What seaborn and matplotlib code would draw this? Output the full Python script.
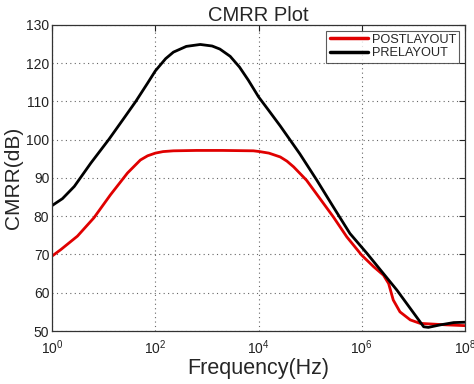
import numpy as np
import pandas as pd
import matplotlib
matplotlib.use("Agg")
import matplotlib.pyplot as plt
import seaborn as sns
from matplotlib.ticker import NullLocator, FixedLocator

# log10(frequency in Hz) and CMRR values (dB)
pre_logf = [0, 0.2, 0.43, 0.75, 1.1, 1.39, 1.62, 1.85, 2.0, 2.2, 2.35, 2.6, 2.87, 3.1, 3.25, 3.45, 3.63,
            3.8, 4.0, 4.2, 4.42, 4.8, 5.13, 5.45, 5.77, 6.1, 6.42, 6.68, 6.94, 7.2, 7.29, 7.52, 7.78, 8.0]
pre_cmrr = [82.8, 84.6, 87.8, 93.9, 100.1, 105.6, 110, 114.8, 118.0, 121.2, 122.9, 124.4, 124.9, 124.5, 123.7, 121.8, 119,
            115.6, 111.2, 107.6, 103.6, 96.3, 89.4, 82.4, 75.5, 70.3, 65, 60.7, 55.9, 51.1, 50.95, 51.6, 52.2, 52.3]

post_logf = [0, 0.17, 0.49, 0.81, 1.13, 1.46, 1.71, 1.85, 2.0, 2.15, 2.35, 2.8, 3.3, 3.9, 4.02, 4.2, 4.42, 4.55,
             4.68, 4.93, 5.19, 5.45, 5.71, 6.0, 6.23, 6.42, 6.52, 6.61, 6.74, 6.94, 7.13, 7.39, 7.65, 8.0]
post_cmrr = [69.6, 71.3, 74.8, 79.6, 85.6, 91.3, 94.7, 95.8, 96.5, 96.9, 97.1, 97.2, 97.2, 97.1, 96.9, 96.5, 95.5, 94.4,
             92.9, 89.4, 84.6, 79.8, 74.6, 69.8, 66.8, 64.6, 62.4, 58.1, 55.0, 52.9, 52.0, 51.8, 51.6, 51.4]

series_names = ["POSTLAYOUT", "PRELAYOUT"]
series_colors = ["#e00000", "#000000"]
x_ticks = [1, 1e2, 1e4, 1e6, 1e8]
x_ticklabels = ["$10^0$", "$10^2$", "$10^4$", "$10^6$", "$10^8$"]
y_ticks = [50, 60, 70, 80, 90, 100, 110, 120, 130]

df = pd.concat([
    pd.DataFrame({"freq": np.power(10.0, post_logf), "cmrr": post_cmrr, "series": series_names[0]}),
    pd.DataFrame({"freq": np.power(10.0, pre_logf), "cmrr": pre_cmrr, "series": series_names[1]}),
], ignore_index=True)

sns.set_style("white")
plt.rcParams["font.family"] = ["Liberation Sans", "DejaVu Sans"]
plt.rcParams["mathtext.fontset"] = "custom"
plt.rcParams["mathtext.rm"] = "Liberation Sans"
plt.rcParams["mathtext.it"] = "Liberation Sans"

fig = plt.figure(figsize=(4.74, 3.84), dpi=100)
ax = fig.add_axes([0.110, 0.138, 0.871, 0.797])

sns.lineplot(data=df, x="freq", y="cmrr", hue="series", palette=series_colors,
             hue_order=series_names, linewidth=2.0, sort=False, estimator=None, ax=ax)

ax.set_xscale("log")
ax.set_xlim(1, 1e8)
ax.set_ylim(50, 130)
ax.xaxis.set_major_locator(FixedLocator(x_ticks))
ax.set_xticklabels(x_ticklabels)
ax.xaxis.set_minor_locator(NullLocator())
ax.set_yticks(y_ticks)

ax.grid(True, which="major", linestyle=(0, (1, 3)), color="#666666", linewidth=0.8)
ax.tick_params(direction="in", top=True, right=True, length=4, width=0.8,
               labelsize=10, colors="#222222")
ax.tick_params(axis="x", pad=5)
ax.tick_params(axis="y", pad=2)
for s in ax.spines.values():
    s.set_color("#333333")
    s.set_linewidth(0.9)

ax.set_title("CMRR Plot", fontsize=14.5, pad=3)
ax.set_xlabel("Frequency(Hz)", fontsize=15.5, labelpad=1)
ax.set_ylabel("CMRR(dB)", fontsize=15, labelpad=2)

leg = ax.legend(loc="upper right", fontsize=9.2, frameon=True, fancybox=False,
                handlelength=3.0, borderpad=0.25, labelspacing=0.12, handletextpad=0.3,
                borderaxespad=0.45)
leg.get_frame().set_edgecolor("#333333")
leg.get_frame().set_linewidth(0.8)
for h in leg.get_lines():
    h.set_linewidth(2.5)

fig.savefig("out.png", dpi=100)
